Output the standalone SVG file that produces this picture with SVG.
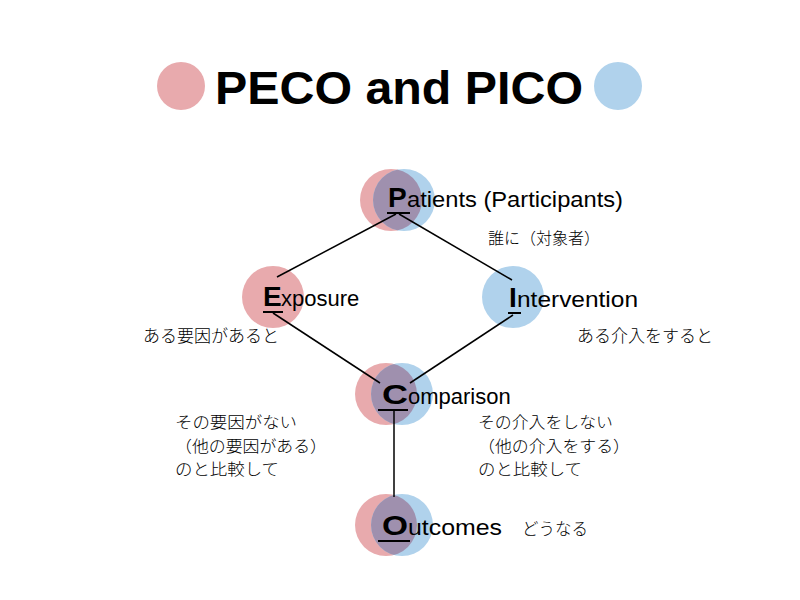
<svg xmlns="http://www.w3.org/2000/svg" width="800" height="600" viewBox="0 0 800 600">
<style>
.pink{fill:#e8aaad}
.blue{fill:#b0d2ec}
.mix{fill:#9f90ae}
.big{font-family:"Liberation Sans",Arial,sans-serif;font-weight:bold;font-size:28px;fill:#000}
.lbl{font-family:"Liberation Sans",Arial,sans-serif;font-size:22px;fill:#000}
.jp{font-family:"Noto Sans CJK JP","Noto Sans",sans-serif;font-weight:300;font-size:17px;fill:#000}
.jps{font-family:"Noto Sans CJK JP","Noto Sans",sans-serif;font-weight:300;font-size:16px;fill:#000}
.ul{stroke:#000;stroke-width:2}
.con{stroke:#000;stroke-width:1.5;fill:none}
</style>
<defs>
<clipPath id="cpP"><circle cx="391" cy="200" r="31"/></clipPath>
<clipPath id="cpC"><circle cx="386" cy="394" r="31"/></clipPath>
<clipPath id="cpO"><circle cx="386" cy="525" r="31"/></clipPath>
</defs>
<rect width="800" height="600" fill="#fff"/>
<g id="title">
<circle class="pink" cx="181" cy="86" r="24"/>
<circle class="blue" cx="618" cy="86" r="24"/>
<text x="399" y="104" text-anchor="middle" textLength="368" lengthAdjust="spacingAndGlyphs" style="font-family:'Liberation Sans',Arial,sans-serif;font-weight:bold;font-size:46px">PECO and PICO</text>
</g>
<g id="node-P">
<circle class="pink" cx="391" cy="200" r="31"/>
<circle class="blue" cx="404" cy="200" r="31"/>
<circle class="mix" cx="404" cy="200" r="31" clip-path="url(#cpP)"/>
<text class="big" x="388" y="207">P</text>
<line class="ul" x1="387" y1="213" x2="410" y2="213"/>
<text class="lbl" x="407" y="207" textLength="216" lengthAdjust="spacingAndGlyphs">atients (Participants)</text>
<text class="jps" x="488" y="244">誰に（対象者）</text>
</g>
<g id="node-E">
<circle class="pink" cx="273" cy="297" r="31"/>
<text class="big" x="263" y="306">E</text>
<line class="ul" x1="263" y1="312" x2="283" y2="312"/>
<text class="lbl" x="281" y="306">xposure</text>
<text class="jp" x="143" y="342">ある要因があると</text>
</g>
<g id="node-I">
<circle class="blue" cx="513" cy="297" r="31"/>
<text class="big" x="509" y="307">I</text>
<line class="ul" x1="508" y1="313" x2="521" y2="313"/>
<text class="lbl" x="517" y="307" textLength="121" lengthAdjust="spacingAndGlyphs">ntervention</text>
<text class="jp" x="577" y="342">ある介入をすると</text>
</g>
<g id="node-C">
<circle class="pink" cx="386" cy="394" r="31"/>
<circle class="blue" cx="402" cy="394" r="31"/>
<circle class="mix" cx="402" cy="394" r="31" clip-path="url(#cpC)"/>
<text class="big" x="382" y="404" textLength="26" lengthAdjust="spacingAndGlyphs">C</text>
<line class="ul" x1="378" y1="410" x2="408" y2="410"/>
<text class="lbl" x="408" y="404">omparison</text>
<text class="jps" x="175" y="428" textLength="122" lengthAdjust="spacingAndGlyphs">その要因がない</text>
<text class="jps" x="175" y="451.5" textLength="152" lengthAdjust="spacingAndGlyphs">（他の要因がある）</text>
<text class="jps" x="175" y="475" textLength="104" lengthAdjust="spacingAndGlyphs">のと比較して</text>
<text class="jps" x="478" y="428" textLength="135" lengthAdjust="spacingAndGlyphs">その介入をしない</text>
<text class="jps" x="478" y="451.5" textLength="152" lengthAdjust="spacingAndGlyphs">（他の介入をする）</text>
<text class="jps" x="478" y="475" textLength="104" lengthAdjust="spacingAndGlyphs">のと比較して</text>
</g>
<g id="node-O">
<circle class="pink" cx="386" cy="525" r="31"/>
<circle class="blue" cx="402" cy="525" r="31"/>
<circle class="mix" cx="402" cy="525" r="31" clip-path="url(#cpO)"/>
<text class="big" x="382" y="535" textLength="26" lengthAdjust="spacingAndGlyphs">O</text>
<line class="ul" x1="378" y1="541" x2="410" y2="541"/>
<text class="lbl" x="408" y="535" textLength="94" lengthAdjust="spacingAndGlyphs">utcomes</text>
<text class="jp" x="522" y="535" style="font-size:16.5px">どうなる</text>
</g>
<g id="connectors">
<line class="con" x1="396" y1="214" x2="277" y2="277"/>
<line class="con" x1="399" y1="214" x2="512" y2="280"/>
<line class="con" x1="273" y1="313" x2="380" y2="383"/>
<line class="con" x1="513" y1="315" x2="410" y2="383"/>
<line class="con" x1="394" y1="410" x2="394" y2="497"/>
</g>
</svg>
